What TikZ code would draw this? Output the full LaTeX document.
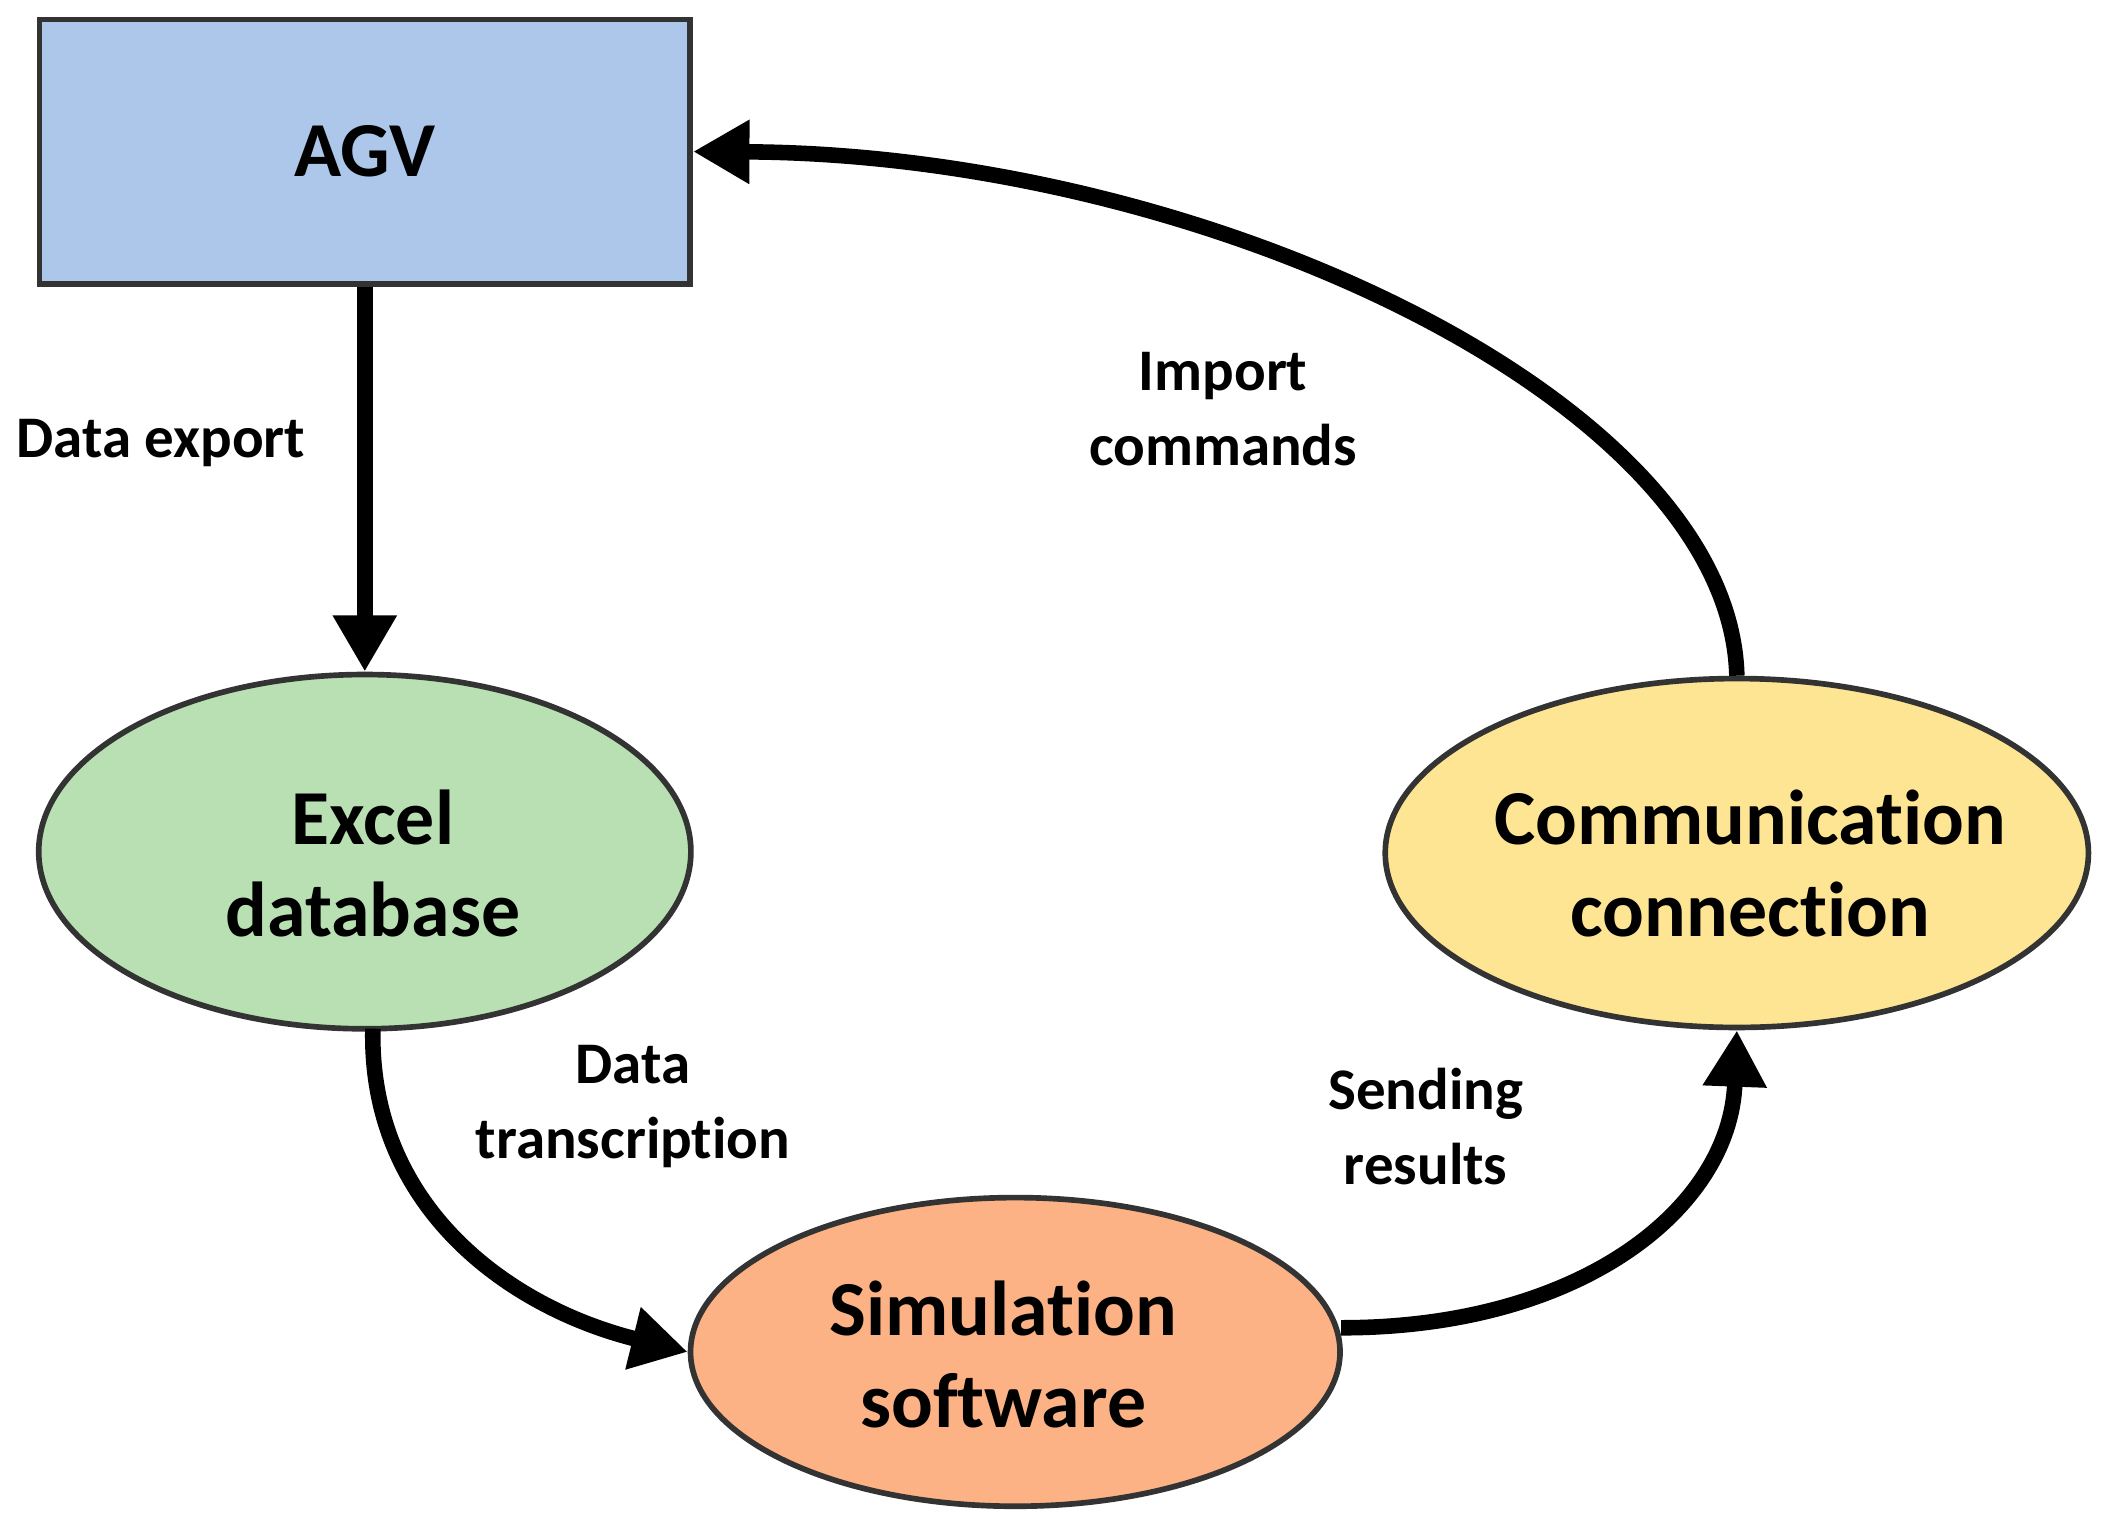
\documentclass[tikz,border=0pt]{standalone}
\usepackage{fontspec}
\setmainfont[Ligatures=NoCommon]{Carlito}
\usetikzlibrary{shapes.geometric,arrows.meta}
\begin{document}
\begin{tikzpicture}[x=0.01cm,y=-0.01cm,
  box/.style={draw=black!80,line width=1.2pt,font=\fontsize{16.5}{19.5}\selectfont\bfseries,align=center,inner sep=0pt},
  ell/.style={draw=black!80,line width=1.2pt,ellipse,inner sep=0pt},
  etext/.style={font=\fontsize{16.5}{19.5}\selectfont\bfseries,align=center},
  flow/.style={line width=3.3pt,-{Triangle[length=0.42cm,width=0.45cm]}},
  lbl/.style={font=\fontsize{12.5}{16}\selectfont\bfseries,align=center}]
\useasboundingbox (0,0) rectangle (1568,1136);
\node[box,fill={rgb,255:red,173;green,199;blue,234},minimum width=4.85cm,minimum height=1.97cm] (agv) at (272,113) {AGV};
\node[ell,fill={rgb,255:red,185;green,224;blue,178},minimum width=4.86cm,minimum height=2.64cm] (excel) at (272,635) {};
\node[etext] (excelt) at (278,644) {Excel\\database};
\node[ell,fill={rgb,255:red,252;green,178;blue,132},minimum width=4.84cm,minimum height=2.3cm] (sim) at (757,1008) {};
\node[etext] (simt) at (748,1010) {Simulation\\software};
\node[ell,fill={rgb,255:red,253;green,229;blue,148},minimum width=5.24cm,minimum height=2.6cm] (comm) at (1295,636) {};
\node[etext] (commt) at (1305,644) {Communication\\connection};
\draw[flow] (agv.south) -- (excel.north);
\draw[flow] (278,767) .. controls (275,900) and (380,975) .. (sim.west);
\draw[flow] (1000,990) .. controls (1180,990) and (1290,900) .. (comm.south);
\draw[flow] (comm.north) .. controls (1290,300) and (900,115) .. (agv.east);
\node[lbl] (l1) at (120,330) {Data export};
\node[lbl] (l2) at (912,305) {Import\\commands};
\node[lbl] (l3) at (472,825) {Data\\transcription};
\node[lbl] (l4) at (1063,840) {Sending\\results};
\end{tikzpicture}
\end{document}
